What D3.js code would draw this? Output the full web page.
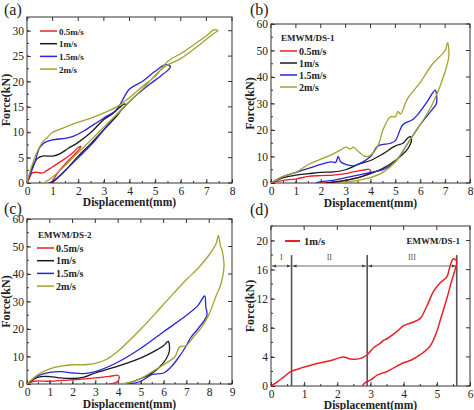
<!DOCTYPE html>
<html><head><meta charset="utf-8">
<script src="https://cdn.jsdelivr.net/npm/d3@7/dist/d3.min.js"></script>
<style>
body{margin:0;background:#fff;}
text{font-family:"Liberation Serif","Times New Roman",serif;}
</style></head>
<body><svg id="c" width="474" height="410"></svg>
<script>
// ---------- DATA ----------
const speeds = ["0.5m/s","1m/s","1.5m/s","2m/s"];
const colors = ["#e8202a","#1a1a1a","#2626d6","#a3a22e"];

const xTicksA = [0,1,2,3,4,5,6,7,8];
const yTicksA = [0,5,10,15,20,25,30];
const xTicksB = [0,1,2,3,4,5,6,7,8];
const yTicksB = [0,10,20,30,40,50,60];
const xTicksC = [0,1,2,3,4,5,6,7,8,9];
const yTicksC = [0,10,20,30,40,50,60];
const xTicksD = [0,1,2,3,4,5,6];
const yTicksD = [0,4,8,12,16,20];

// panel (a)
const a05 = [[0,0],[0.1,1],[0.2,2],[0.4,2.1],[0.6,1.95],[0.7,2.2],[1.0,3.2],[1.4,4.5],[1.8,6.0],[2.0,7.0],[2.1,7.2],[2.05,6.7],[2.0,6.4],[1.5,3.8],[1.2,2.0],[0.95,0]];
const a10 = [[0,0],[0.2,3],[0.4,4.8],[0.6,5.3],[1.0,5.3],[1.3,5.8],[1.6,6.8],[2.0,8],[2.5,10],[3.0,12.5],[3.3,13.5],[3.6,14.8],[3.8,15.6],[3.85,15.3],[3.7,14.5],[3.5,13.2],[3.0,10.5],[2.5,7.8],[2.0,5.3],[1.5,2.5],[1.0,0.2],[0.85,0]];
const a15 = [[0,0],[0.3,4],[0.5,7],[0.7,8],[1.0,8.5],[1.5,8.8],[1.8,9.2],[2.2,10.2],[2.6,11.5],[3.0,12.8],[3.5,14.5],[4.0,18.5],[4.5,20],[5.0,22],[5.4,23.3],[5.6,23],[5.55,22.5],[5.2,21],[4.8,19.5],[4.2,17],[3.6,14],[3.0,10.5],[2.5,7.5],[2.0,5],[1.5,2.5],[1.0,0.3],[0.85,0]];
const a20 = [[0,0],[0.3,5],[0.6,8],[0.8,9],[1.0,10],[1.5,11],[2.0,12],[2.5,12.8],[3.0,13.8],[3.5,15],[4.0,16.8],[4.5,19],[5.0,21],[5.5,24],[6.0,25.5],[6.5,27.2],[7.0,29],[7.3,30.2],[7.45,30],[7.3,29.5],[6.8,27.5],[6.0,24.5],[5.4,23],[5.0,21.2],[4.5,18.5],[4.0,16],[3.5,13.5],[3.0,11],[2.5,8.5],[2.0,6],[1.5,3.5],[1.0,1.2],[0.65,0]];

// panel (b)
const b05 = [[0,0],[0.5,1],[1.0,1.5],[1.5,2.5],[2.0,2.8],[2.5,3],[3.0,3.5],[3.3,4.2],[3.5,4.5],[3.8,5],[3.95,5.2],[4.0,4.5],[3.8,3],[3.5,2],[3.0,1],[2.5,0.3],[2.0,0]];
const b10 = [[0,0],[0.5,2],[1.0,3],[1.5,3.5],[2.0,4],[2.5,4.2],[3.0,5],[3.5,7],[4.0,8.5],[4.5,11],[5.0,14],[5.3,15],[5.5,17],[5.6,17.5],[5.65,16.5],[5.5,13],[5.0,8.5],[4.5,5.5],[4.0,3.5],[3.5,2],[3.0,1],[2.5,0.3],[2.2,0]];
const b15 = [[0,0],[0.5,2.5],[1.0,4],[1.5,5.5],[2.0,7],[2.4,8],[2.6,7.8],[2.7,10],[2.8,8],[3.0,7],[3.3,6.5],[3.5,7],[4.0,10],[4.3,14],[4.8,15],[5.0,16],[5.3,22],[5.7,24],[6.0,27],[6.3,31],[6.6,35],[6.65,30],[6.5,28],[6.0,22],[5.5,15],[5.0,8],[4.5,5],[4.0,4],[3.5,3],[3.0,2],[2.5,1],[2.0,0.5],[1.8,0]];
const b20 = [[0,0],[0.5,2.5],[1.0,4],[1.5,7],[2.0,9],[2.5,11],[2.8,12.5],[3.0,13.5],[3.2,12.8],[3.3,13.5],[3.5,12],[3.8,10],[4.0,10.5],[4.3,14],[4.5,20],[4.8,25],[5.0,25],[5.1,27],[5.2,26],[5.5,32],[6.0,38],[6.5,45],[7.0,50],[7.1,53],[7.15,48],[7.0,42],[6.5,30],[6.0,22],[5.5,15],[5.0,8],[4.5,4],[4.0,2],[3.5,1],[3.0,0.3],[2.8,0]];

// panel (c)
const c05 = [[0,0],[0.3,1],[1.0,1],[2.0,1.5],[3.0,2.2],[3.8,3],[4.0,3.2],[4.05,2],[3.9,0.5],[3.6,0]];
const c10 = [[0,0],[0.5,2.5],[1.0,2.7],[1.5,2.2],[2.0,2],[2.5,2.5],[3.0,4],[4.0,6.5],[5.0,9.5],[5.5,11.5],[6.0,14],[6.2,15.5],[6.25,12],[6.1,9],[5.8,6],[5.5,4],[5.0,2],[4.5,0.5],[4.2,0]];
const c15 = [[0,0],[0.5,3],[1.0,4.2],[1.5,4.5],[2.0,4],[2.5,3.8],[3.0,4.5],[4.0,8],[5.0,13],[6.0,19],[7.0,25],[7.5,28.5],[7.8,32],[7.85,28],[7.9,25],[7.5,20],[7.2,17],[7.0,14],[6.6,9],[6.3,6],[6.0,4],[5.5,3.5],[5.2,2],[5.0,1],[4.7,0.3],[4.5,0]];
const c20 = [[0,0],[0.5,3.5],[1.0,5.5],[1.5,6.5],[2.0,7],[2.5,7],[3.0,7.5],[3.5,9],[4.0,12],[5.0,20],[6.0,29],[7.0,38],[7.5,42],[8.0,47],[8.3,51],[8.4,54],[8.5,50],[8.55,49],[8.6,47],[8.65,43],[8.5,36],[8.3,32],[8.0,25.5],[7.7,21],[7.3,17],[7.0,14],[6.7,13.5],[6.5,10],[6.0,7],[5.5,4.5],[5.0,2],[4.5,0.5],[4.0,0]];

// panel (d)
const d10 = [[0,0],[0.2,0.6],[0.4,1.3],[0.6,2.0],[0.8,2.3],[1.0,2.6],[1.3,3],[1.6,3.3],[1.8,3.5],[2.0,3.8],[2.2,4],[2.4,3.7],[2.7,3.8],[2.9,4.3],[3.1,5.3],[3.3,5.9],[3.4,6.3],[3.5,6.5],[3.8,7.5],[4.0,8.3],[4.3,8.8],[4.5,9.3],[4.7,11],[4.9,13],[5.1,14.2],[5.3,15],[5.4,16.5],[5.5,17.5],[5.6,17.2],[5.55,16],[5.45,14.5],[5.3,12],[5.1,9],[5.0,7.5],[4.8,5.5],[4.5,4.3],[4.2,3.5],[4.0,3.2],[3.7,2.5],[3.5,2],[3.2,1.5],[3.0,0.8],[2.85,0.5],[2.75,0]];
const dStages = [0.62, 2.9, 5.6];
const dStageLabels = ["I","II","III"];

// ---------- DRAW ----------
const svg = d3.select("#c");
const defs = svg.append("defs");
["s","e"].forEach(k=>{
  defs.append("marker").attr("id","arr"+k).attr("viewBox","0 0 10 10").attr("refX",k==="e"?10:0).attr("refY",5)
   .attr("markerWidth",5).attr("markerHeight",5).attr("orient","auto")
   .append("path").attr("d",k==="e"?"M0,1L10,5L0,9Z":"M10,1L0,5L10,9Z").attr("fill","#444");
});

const panels = [
  {lab:"(a)", lx:4, ly:15, X:[27,232], Y:[183,17], xd:[0,8], yd:[0,32.7], xt:xTicksA, yt:yTicksA,
   series:[a05,a10,a15,a20], legend:{x:40,y:31,dy:12.7,title:null}, yl:10, xlY:206},
  {lab:"(b)", lx:250, ly:15, X:[271,470], Y:[183,24], xd:[0,8], yd:[0,60], xt:xTicksB, yt:yTicksB,
   series:[b05,b10,b15,b20], legend:{x:280,y:51,dy:12,title:"EMWM/DS-1"}, yl:254, xlY:207},
  {lab:"(c)", lx:4, ly:214, X:[27,232], Y:[384,219], xd:[0,9], yd:[0,60], xt:xTicksC, yt:yTicksC,
   series:[c05,c10,c15,c20], legend:{x:37,y:248,dy:12.7,title:"EMWM/DS-2"}, yl:10, xlY:408},
  {lab:"(d)", lx:250, ly:215, X:[271,470], Y:[386,226], xd:[0,6], yd:[0,22], xt:xTicksD, yt:yTicksD,
   series:[d10], legend:null, yl:254, xlY:409}
];

panels.forEach((p,pi)=>{
  const x = d3.scaleLinear().domain(p.xd).range(p.X);
  const y = d3.scaleLinear().domain(p.yd).range(p.Y);
  const g = svg.append("g");
  const clipId = "clip"+pi;
  defs.append("clipPath").attr("id",clipId).append("rect")
    .attr("x",p.X[0]).attr("y",p.Y[1]).attr("width",p.X[1]-p.X[0]).attr("height",p.Y[0]-p.Y[1]);

  const xs = p.xt[1]-p.xt[0], ys = p.yt[1]-p.yt[0];
  const xMinor = d3.range(p.xd[0], p.xd[1]+1e-9, xs/2);
  const yMinor = d3.range(p.yd[0], p.yd[1]+1e-9, ys/2);

  const bottom = d3.axisBottom(x).tickValues(p.xt).tickSizeInner(-4).tickSizeOuter(0).tickPadding(4).tickFormat(d3.format("d"));
  const left = d3.axisLeft(y).tickValues(p.yt).tickSizeInner(-4).tickSizeOuter(0).tickPadding(3).tickFormat(d3.format("d"));
  const ga = g.append("g").attr("transform",`translate(0,${p.Y[0]})`).call(bottom);
  const gl = g.append("g").attr("transform",`translate(${p.X[0]},0)`).call(left);
  [ga,gl].forEach(ax=>{
    ax.select(".domain").remove();
    ax.selectAll("text").attr("font-size",11.5).attr("fill","#222").attr("font-family","Liberation Serif");
    ax.selectAll("line").attr("stroke","#333");
  });
  g.append("g").selectAll("line").data(xMinor).join("line")
    .attr("x1",d=>x(d)).attr("x2",d=>x(d)).attr("y1",p.Y[0]).attr("y2",p.Y[0]-2).attr("stroke","#333");
  g.append("g").selectAll("line").data(yMinor).join("line")
    .attr("y1",d=>y(d)).attr("y2",d=>y(d)).attr("x1",p.X[0]).attr("x2",p.X[0]+2).attr("stroke","#333");
  g.append("g").selectAll("line").data(p.xt).join("line")
    .attr("x1",d=>x(d)).attr("x2",d=>x(d)).attr("y1",p.Y[1]).attr("y2",p.Y[1]+4).attr("stroke","#333");
  g.append("g").selectAll("line").data(p.yt).join("line")
    .attr("y1",d=>y(d)).attr("y2",d=>y(d)).attr("x1",p.X[1]).attr("x2",p.X[1]-4).attr("stroke","#333");

  g.append("rect").attr("x",p.X[0]).attr("y",p.Y[1]).attr("width",p.X[1]-p.X[0]).attr("height",p.Y[0]-p.Y[1])
    .attr("fill","none").attr("stroke","#333").attr("stroke-width",1);

  if(pi===3){
    const sg = g.append("g");
    dStages.forEach(s=>{
      sg.append("line").attr("x1",x(s)).attr("x2",x(s)).attr("y1",y(0)).attr("y2",y(18))
        .attr("stroke","#555").attr("stroke-width",1.6);
    });
    const bounds = [0].concat(dStages);
    for(let i=0;i<3;i++){
      sg.append("line").attr("x1",x(bounds[i])+1).attr("x2",x(bounds[i+1])-1).attr("y1",y(16.5)).attr("y2",y(16.5))
        .attr("stroke","#444").attr("stroke-width",0.8)
        .attr("marker-start","url(#arrs)").attr("marker-end","url(#arre)");
      sg.append("text").attr("x",(x(bounds[i])+x(bounds[i+1]))/2).attr("y",y(17.3))
        .attr("text-anchor","middle").attr("font-size",8).attr("fill","#555").text(dStageLabels[i]);
    }
  }

  const line = d3.line().x(d=>x(d[0])).y(d=>y(d[1])).curve(d3.curveCatmullRom.alpha(0.5));
  const cg = g.append("g").attr("clip-path",`url(#${clipId})`);
  p.series.forEach((s,i)=>{
    const col = pi===3 ? colors[0] : colors[i];
    cg.append("path").datum(s).attr("d",line).attr("fill","none").attr("stroke",col).attr("stroke-width",pi===3?1.5:1.3)
      .attr("stroke-linejoin","round");
  });

  if(p.legend){
    const L = p.legend;
    if(L.title) g.append("text").attr("x",L.x+1).attr("y",L.y-10).attr("font-size",9).attr("font-weight","bold").attr("fill","#222").text(L.title);
    speeds.forEach((sp,i)=>{
      const yy = L.y + i*L.dy;
      g.append("line").attr("x1",L.x).attr("x2",L.x+17).attr("y1",yy).attr("y2",yy).attr("stroke",colors[i]).attr("stroke-width",1.5);
      g.append("text").attr("x",L.x+19).attr("y",yy+3.5).attr("font-size",pi===0?9:10).attr("font-weight","bold").attr("fill","#222").text(sp);
    });
  } else {
    g.append("line").attr("x1",285).attr("x2",300).attr("y1",241).attr("y2",241).attr("stroke",colors[0]).attr("stroke-width",2);
    g.append("text").attr("x",304).attr("y",245).attr("font-size",10.5).attr("font-weight","bold").attr("fill","#222").text("1m/s");
    g.append("text").attr("x",460).attr("y",244).attr("text-anchor","end").attr("font-size",9).attr("font-weight","bold").attr("fill","#222").text("EMWM/DS-1");
  }

  g.append("text").attr("x",(p.X[0]+p.X[1])/2).attr("y",p.xlY).attr("text-anchor","middle")
    .attr("font-size",11.5).attr("font-weight","bold").attr("fill","#222").text("Displacement(mm)");
  const cy = (p.Y[0]+p.Y[1])/2;
  g.append("text").attr("transform",`translate(${p.yl},${cy}) rotate(-90)`).attr("text-anchor","middle")
    .attr("font-size",12).attr("font-weight","bold").attr("fill","#222").text("Force(kN)");
  svg.append("text").attr("x",p.lx).attr("y",p.ly).attr("font-size",16).attr("fill","#222").text(p.lab);
});
</script></body></html>
